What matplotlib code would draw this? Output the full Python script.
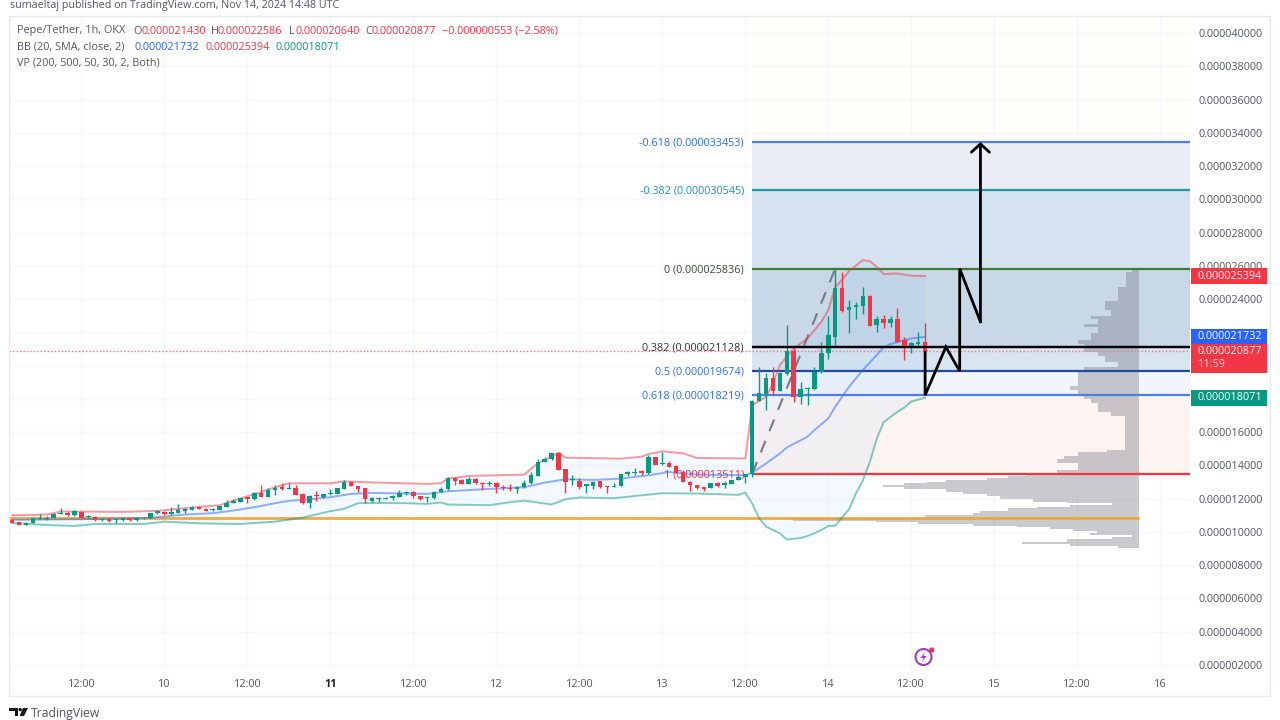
import matplotlib
matplotlib.use('Agg')
import matplotlib.pyplot as plt
import numpy as np
from matplotlib.patches import Circle, Rectangle
from matplotlib.transforms import blended_transform_factory

plt.rcParams['font.family'] = ['Open Sans', 'DejaVu Sans']

# prices are in millionths of USDT, hours count from Nov 10 00:00
candle_open = [10.72, 10.58, 10.44, 10.56, 10.78, 10.80, 10.84, 11.10, 11.16, 11.00, 11.22, 10.88, 10.92, 10.70, 10.76, 10.72, 10.70, 10.82, 10.70, 10.82, 10.84, 11.14,
               11.22, 11.06, 11.16, 11.28, 11.32, 11.50, 11.40, 11.30, 11.32, 11.52, 11.74, 11.82, 12.08, 11.96, 12.36, 12.12, 12.50, 12.72, 12.60, 12.62, 12.26, 11.72, 12.22, 12.08,
               12.28, 12.28, 12.60, 12.98, 12.76, 12.62, 11.89, 11.97, 12.01, 12.03, 12.13, 12.33, 12.41, 12.17, 12.03, 12.03, 12.41, 12.57, 13.25, 13.13, 12.91, 13.21, 12.97, 12.87,
               12.97, 12.73, 12.67, 12.57, 12.69, 12.93, 13.39, 14.21, 14.37, 14.73, 13.77, 13.13, 13.09, 12.79, 12.79, 13.05, 12.77, 12.73, 12.77, 13.49, 13.53, 13.65, 13.53, 14.49,
               14.09, 14.17, 13.97, 13.63, 13.03, 12.83, 12.69, 12.65, 12.93, 12.81, 12.89, 13.13, 13.33, 13.48, 17.89, 18.29, 19.25, 18.49, 19.50, 20.90, 18.09, 18.61, 18.57, 19.64,
               20.74, 21.74, 24.65, 23.32, 23.54, 23.58, 24.20, 22.42, 22.78, 22.54, 22.78, 21.54, 21.10, 21.28, 21.43]
candle_high = [10.76, 10.62, 10.58, 10.84, 11.08, 10.96, 11.12, 11.44, 11.20, 11.32, 11.24, 11.04, 10.94, 10.86, 10.82, 10.76, 10.84, 10.84, 10.86, 10.88, 11.14, 11.32,
               11.28, 11.52, 11.66, 11.42, 11.56, 11.58, 11.44, 11.46, 11.56, 11.92, 11.98, 12.06, 12.12, 12.42, 12.84, 12.62, 12.82, 12.92, 12.96, 12.82, 12.36, 12.20, 12.48, 12.30,
               12.56, 12.66, 13.12, 13.08, 12.78, 12.64, 12.13, 12.13, 12.09, 12.23, 12.53, 12.49, 12.47, 12.19, 12.11, 12.49, 12.73, 13.33, 13.33, 13.17, 13.33, 13.23, 12.99, 13.09,
               13.01, 12.85, 12.89, 12.75, 13.13, 13.63, 14.37, 14.53, 14.75, 14.83, 13.79, 13.43, 13.23, 12.89, 13.05, 13.07, 12.79, 12.97, 13.51, 13.69, 13.83, 13.73, 14.63, 14.51,
               14.83, 14.29, 14.01, 13.73, 13.05, 12.85, 12.71, 12.95, 13.03, 13.09, 13.15, 13.35, 13.51, 17.95, 19.94, 19.54, 19.94, 19.64, 22.44, 21.04, 19.03, 18.73, 19.94, 21.44,
               22.98, 25.85, 25.65, 23.94, 23.84, 24.71, 24.24, 22.98, 23.04, 22.98, 23.44, 21.74, 21.44, 22.04, 22.586]
candle_low = [10.52, 10.42, 10.42, 10.54, 10.76, 10.72, 10.82, 11.08, 10.98, 10.98, 10.82, 10.84, 10.68, 10.64, 10.62, 10.52, 10.68, 10.68, 10.68, 10.80, 10.82, 11.08,
              11.02, 11.00, 11.12, 11.16, 11.30, 11.36, 11.24, 11.28, 11.30, 11.50, 11.72, 11.80, 11.72, 11.94, 12.08, 12.10, 12.22, 12.52, 12.56, 12.20, 11.70, 11.42, 11.88, 12.02,
              12.22, 12.26, 12.58, 12.74, 12.42, 11.72, 11.81, 11.83, 11.99, 11.93, 12.11, 12.25, 12.07, 11.95, 11.83, 12.01, 12.39, 12.55, 12.83, 12.89, 12.89, 12.91, 12.53, 12.77,
              12.37, 12.53, 12.49, 12.33, 12.67, 12.91, 13.37, 14.19, 14.35, 13.71, 12.33, 12.83, 12.57, 12.33, 12.57, 12.67, 12.33, 12.69, 12.75, 13.37, 13.43, 13.43, 13.51, 14.03,
              14.03, 13.91, 13.55, 13.01, 12.49, 12.61, 12.49, 12.63, 12.69, 12.63, 12.87, 13.11, 12.97, 13.32, 17.85, 17.33, 18.21, 18.45, 19.46, 17.83, 17.69, 17.63, 18.53, 19.58,
              20.38, 21.14, 23.24, 21.98, 22.78, 23.10, 22.36, 22.04, 22.24, 22.30, 21.40, 20.34, 20.78, 21.04, 20.64]
candle_close = [10.56, 10.44, 10.56, 10.82, 10.84, 10.84, 11.08, 11.16, 11.00, 11.24, 10.86, 10.94, 10.70, 10.76, 10.66, 10.76, 10.82, 10.70, 10.84, 10.86, 11.12, 11.24,
                11.06, 11.20, 11.32, 11.36, 11.48, 11.38, 11.26, 11.40, 11.54, 11.76, 11.88, 12.04, 12.00, 12.32, 12.12, 12.52, 12.66, 12.60, 12.66, 12.22, 11.72, 12.16, 12.16, 12.26,
                12.32, 12.62, 12.98, 12.76, 12.56, 11.96, 12.03, 12.03, 12.07, 12.17, 12.33, 12.41, 12.15, 11.97, 12.09, 12.41, 12.61, 13.25, 13.09, 12.91, 13.19, 12.93, 12.89, 12.97,
                12.69, 12.63, 12.57, 12.73, 12.97, 13.41, 14.21, 14.37, 14.73, 13.73, 13.03, 13.17, 12.73, 12.87, 13.03, 12.69, 12.69, 12.79, 13.49, 13.59, 13.59, 13.57, 14.49, 14.05,
                14.17, 13.93, 13.57, 13.03, 12.83, 12.63, 12.61, 12.93, 12.77, 12.93, 13.13, 13.33, 13.49, 17.89, 18.33, 19.25, 18.49, 19.54, 20.90, 18.09, 18.59, 18.67, 19.64, 20.78,
                21.84, 24.69, 23.30, 23.54, 23.64, 24.20, 22.40, 22.78, 22.54, 22.78, 21.44, 21.18, 21.34, 21.40, 20.877]
candle_hours = np.arange(-22, 111)

upper_hours = [-22, -17, -15, -12, -6, -1, 5, 8, 10, 13, 16, 18, 24, 26, 30, 38, 40, 41, 44, 52, 54, 56, 57, 58, 66, 69, 70, 72, 75, 77, 84, 85, 87, 88, 89, 91, 93, 95, 96, 97, 98, 99, 101, 102, 103, 104, 106, 108, 110]
upper_band = [11.01, 11.05, 11.23, 11.23, 11.21, 11.27, 11.51, 11.61, 11.89, 12.27, 12.69, 12.93, 12.93, 13.05, 12.98, 12.89, 12.93, 13.21, 13.37, 13.45, 14.13, 14.53, 14.77, 14.47, 14.41, 14.53, 14.69, 14.85, 14.73, 14.45, 14.42, 17.63, 18.13, 18.93, 20.04, 21.04, 21.64, 22.64, 23.34, 24.75, 25.15, 25.70, 26.35, 26.29, 25.95, 25.51, 25.55, 25.41, 25.394]
basis_hours = [-22, -12, -2, 3, 7, 10, 13, 16, 18, 21, 24, 27, 30, 38, 41, 47, 52, 55, 58, 62, 66, 70, 73, 77, 84, 85, 87, 89, 90, 93, 94, 96, 97, 99, 101, 103, 104, 105, 107, 108, 110]
basis_band = [10.73, 10.77, 10.85, 11.05, 11.13, 11.29, 11.49, 11.73, 11.87, 11.97, 12.09, 12.29, 12.35, 12.29, 12.45, 12.59, 12.69, 12.97, 13.17, 13.13, 13.21, 13.41, 13.61, 13.45, 13.41, 13.56, 14.12, 14.72, 15.08, 15.73, 16.13, 16.83, 17.53, 18.73, 19.74, 20.64, 21.10, 21.30, 21.54, 21.64, 21.732]
lower_hours = [-22, -16, -13, -10, -3, 0, 5, 11, 16, 20, 24, 26, 28, 30, 35, 38, 40, 41, 47, 49, 52, 56, 58, 60, 65, 72, 77, 83, 84, 85, 86, 87, 88, 89, 90, 92, 93, 94, 95, 96, 97, 98, 99, 100, 101, 102, 103, 104, 106, 107, 108, 110]
lower_band = [10.53, 10.40, 10.36, 10.48, 10.48, 10.62, 10.52, 10.48, 10.62, 10.86, 11.25, 11.39, 11.73, 11.74, 11.73, 11.69, 11.77, 11.65, 11.61, 11.73, 11.89, 11.65, 11.97, 12.07, 12.03, 12.33, 12.31, 12.23, 12.37, 11.70, 10.82, 10.32, 10.12, 9.92, 9.54, 9.64, 9.76, 9.92, 10.12, 10.36, 10.38, 10.88, 11.36, 12.32, 13.10, 14.20, 15.60, 16.60, 17.23, 17.48, 17.85, 18.071]

fib_levels = ['-0.618', '-0.382', '0', '0.382', '0.5', '0.618', '1']
fib_prices = [33.453, 30.545, 25.836, 21.128, 19.674, 18.219, 13.511]
fib_colors = ['#4a7ff0', '#1f9aa5', '#3f7a3a', '#000000', '#1f4aa0', '#4a7ff0', '#f23645']
fib_label_colors = ['#2f6fe8', '#1f9aa5', '#3c4a3c', '#333333', '#2f6fe8', '#2f6fe8', '#f23645']
fib_fills = ['#e9edf5', '#d3e1ef', '#c5d6e6', '#d7e4f1', '#f2f5fb', '#fdf4f1']
fib_start = 85
fib_end = 97

poc_price = 10.85

vp_edges = [25.85, 25.65, 24.71, 23.90, 23.34, 22.98, 22.78, 22.50, 22.30, 21.94, 21.54, 21.30, 20.84, 20.58, 20.24, 19.94, 19.64, 18.77, 18.53, 18.17, 17.97, 17.73, 17.23, 16.99, 14.93, 14.83, 14.59, 14.37, 14.12, 13.72, 13.48, 13.36, 13.26,
            13.12, 13.02, 12.92, 12.82, 12.68, 12.58, 12.42, 12.28, 12.16, 11.96, 11.82, 11.72, 11.62, 11.52, 11.42, 11.28, 11.12, 11.00, 10.84, 10.68, 10.58, 10.48, 10.38, 10.28, 10.18, 10.08, 9.96, 9.82, 9.68, 9.56, 9.42, 9.28, 9.16, 9.02]
vp_volume = [1.06, 1.93, 3.0, 5.0, 4.05, 7.0, 6.0, 8.0, 6.0, 7.0, 8.9, 8.0, 6.0, 4.9, 3.0, 8.0, 8.9, 10.0, 8.9, 8.0, 7.0, 6.0, 4.05, 2.0, 4.7, 8.9, 10.9, 11.9, 8.9, 11.9, 16.2, 19.0, 22.0,
             27.9, 30.7, 34.0, 37.0, 34.0, 27.9, 25.4, 22.0, 20.1, 15.3, 10.5, 4.0, 10.0, 14.8, 18.9, 23.0, 24.0, 31.0, 50.0, 38.0, 32.0, 24.0, 17.7, 12.9, 9.5, 6.1, 7.1, 1.1, 4.0, 10.5, 17.0, 10.0, 3.0]
vp_base = 140.95

path_hours = [110, 110, 113, 115, 115, 118]
path_prices = [20.8, 18.22, 21.13, 19.67, 25.84, 22.64]
arrow_top = 33.453

y_ticks = np.arange(2, 42, 2)
hidden_y_ticks = [18, 20, 22]  # covered by the price tags
x_ticks = np.arange(-12, 156, 12)
x_labels = ['12:00', '10', '12:00', '11', '12:00', '12', '12:00', '13', '12:00', '14', '12:00', '15', '12:00', '16']

price_tags = [('0.000025394', 25.394, '#f23645'), ('0.000021732', 21.732, '#2962ff'), ('0.000018071', 18.071, '#089981')]

GREEN = '#089981'
RED = '#f23645'
TEXT = '#555863'
FS = 7.8

fig = plt.figure(figsize=(12.8, 7.2), dpi=100, facecolor='white')
ax = fig.add_axes([9 / 1280, 51 / 720, 1181 / 1280, 653 / 720])
ov = fig.add_axes([0, 0, 1, 1], zorder=5)
ov.set_xlim(0, 1280)
ov.set_ylim(720, 0)
ov.axis('off')
ov.patch.set_alpha(0)

ax.set_xlim(-22.46, 148.3)
ax.set_ylim(1.76, 41.03)
for s in ax.spines.values():
    s.set_visible(False)
ax.set_xticks(x_ticks)
ax.set_xticklabels(x_labels, fontsize=FS, color=TEXT)
ax.get_xticklabels()[3].set_fontweight('bold')
ax.get_xticklabels()[3].set_color('#222222')
ax.set_yticks(y_ticks)
ax.set_yticklabels(['' if v in hidden_y_ticks else '%.9f' % (v * 1e-6) for v in y_ticks], fontsize=FS, color=TEXT)
ax.yaxis.tick_right()
ax.tick_params(axis='both', length=0)
ax.tick_params(axis='y', pad=5.8)
ax.tick_params(axis='x', pad=7.2)
ax.grid(color='#f6f7fa', linewidth=1)
ax.set_axisbelow(True)

# fib bands
ax.fill_between([fib_start, 148.3], fib_prices[0], 41.03, color='#fefefa', lw=0, zorder=0.5)
for i, c in enumerate(fib_fills):
    ax.fill_between([fib_start, 148.3], fib_prices[i + 1], fib_prices[i], color=c, alpha=0.95, lw=0, zorder=0.6)

# bollinger bands
ax.fill(np.r_[upper_hours, lower_hours[::-1]], np.r_[upper_band, lower_band[::-1]], color='#2196f3', alpha=0.05, lw=0, zorder=1)

# visible range volume profile
vol = np.r_[vp_volume, vp_volume[-1]]
ax.fill_betweenx(vp_edges, vp_base - vol, vp_base, step='post', color='#787b86', alpha=0.4, lw=0, zorder=1.5)

ax.hlines(poc_price, -22.46, vp_base, color='#f5a02a', lw=2, alpha=0.9, zorder=2)

for lvl, p, c, lc in zip(fib_levels, fib_prices, fib_colors, fib_label_colors):
    ax.hlines(p, fib_start, 148.3, color=c, lw=1.6, zorder=2)
    ax.text(fib_start - 1.2, p - 0.06, '%s (%.9f)' % (lvl, p * 1e-6), ha='right', va='center', fontsize=FS, color=lc, zorder=2)

ax.plot([fib_start, fib_end], [fib_prices[6], fib_prices[2]], color='#787b86', lw=1.5, dashes=(6, 5), zorder=2.5)

ax.plot(upper_hours, upper_band, color=RED, lw=1.4, alpha=0.5, zorder=3)
ax.plot(basis_hours, basis_band, color='#2962ff', lw=1.4, alpha=0.5, zorder=3)
ax.plot(lower_hours, lower_band, color=GREEN, lw=1.4, alpha=0.5, zorder=3)

# candles
o = np.array(candle_open)
c = np.array(candle_close)
colors = [GREEN if b >= a else RED for a, b in zip(o, c)]
ax.vlines(candle_hours, candle_low, candle_high, colors=colors, lw=1, zorder=4)
ax.bar(candle_hours, np.abs(c - o), bottom=np.minimum(o, c), width=0.66, color=colors, lw=0, zorder=4)

ax.hlines(candle_close[-1], -22.46, 148.3, color='#f6747e', lw=1, linestyles=(0, (1, 1.5)), zorder=3.5)

# projected path
ax.hlines(fib_prices[3], fib_start, 148.3, color='black', lw=1.6, zorder=5)
ax.plot(path_hours, path_prices, color='black', lw=2, solid_joinstyle='miter', zorder=6)
ax.annotate('', xy=(path_hours[-1], arrow_top), xytext=(path_hours[-1], path_prices[-1]), zorder=6,
            arrowprops=dict(arrowstyle='->,head_length=0.6,head_width=0.65', lw=2, color='black', shrinkA=0, shrinkB=0))

# price tags on the right
tag_tr = blended_transform_factory(ov.transData, ax.transData)
for txt, p, col in price_tags:
    ov.add_patch(Rectangle((1191, p - 0.48), 76, 0.96, transform=tag_tr, color=col, lw=0))
    ov.text(1198, p, txt, transform=tag_tr, color='white', fontsize=FS, va='center')
ov.add_patch(Rectangle((1191, 19.58), 76, 1.72, transform=tag_tr, color=RED, lw=0))
ov.text(1198, candle_close[-1], '%.9f' % (candle_close[-1] * 1e-6), transform=tag_tr, color='white', fontsize=FS, va='center')
ov.text(1198, 20.05, '11:59', transform=tag_tr, color='white', fontsize=FS, va='center', alpha=0.85)

# frame, header and legend
ov.add_patch(Rectangle((9, 15.5), 1261, 680.5, fill=False, ec='#e8eaf0', lw=1))
ov.text(10, 5.5, 'sumaeltaj published on TradingView.com, Nov 14, 2024 14:48 UTC', fontsize=7.75, color=TEXT, va='center')

legend_row1 = [(17, 'Pepe/Tether, 1h, OKX', TEXT), (133, 'O', TEXT), (141, '0.000021430', RED), (211, 'H', TEXT), (218, '0.000022586', RED),
               (289, 'L', TEXT), (295, '0.000020640', RED), (365, 'C', TEXT), (372, '0.000020877', RED), (442, '\u22120.000000553 (\u22122.58%)', RED)]
legend_row2 = [(17, 'BB (20, SMA, close, 2)', TEXT), (134.5, '0.000021732', '#2962ff'), (205, '0.000025394', RED), (276, '0.000018071', GREEN)]
for x, s, col in legend_row1:
    ov.text(x, 31, s, fontsize=FS, color=col, va='center')
for x, s, col in legend_row2:
    ov.text(x, 47, s, fontsize=FS, color=col, va='center')
ov.text(17, 63, 'VP (200, 500, 50, 30, 2, Both)', fontsize=FS, color=TEXT, va='center')

# lightning badge
ov.add_patch(Circle((923.5, 657), 8, fill=False, ec='#a33bc2', lw=1.5))
ov.fill([925.5, 920.5, 923.5, 921.5, 926.5, 923.5], [651.5, 658, 658, 662.5, 656, 656], color='#a33bc2', lw=0)
ov.add_patch(Circle((931.7, 650), 2.6, color='#f23645', lw=0))

# TradingView mark
ov.fill([9, 18, 18, 15, 15, 9], [708, 708, 716, 716, 711, 711], color='#131722', lw=0)
ov.add_patch(Circle((20.2, 709.6), 1.7, color='#131722', lw=0))
ov.fill([23, 28, 24, 19.5], [708, 708, 716, 716], color='#131722', lw=0)
ov.text(31, 713.5, 'TradingView', fontsize=8.7, color='#50535e', va='center')

fig.savefig('out.png', dpi=100)
plt.close()
